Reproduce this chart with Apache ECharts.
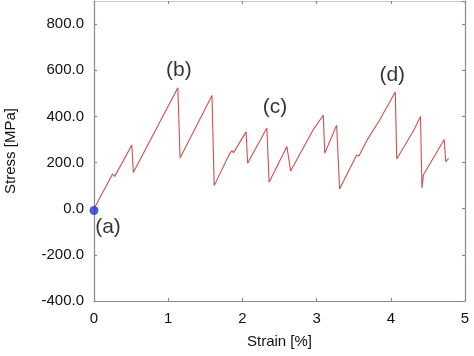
<!DOCTYPE html>
<html>
<head>
<meta charset="utf-8">
<script src="https://cdn.jsdelivr.net/npm/echarts@6/dist/echarts.min.js"></script>
<style>html,body{margin:0;padding:0;background:#fff}#c{width:474px;height:356px}</style>
</head>
<body>
<div id="c"></div>
<script>
var strain = [0, 0.25, 0.28, 0.51, 0.53, 1.13, 1.16, 1.59, 1.62, 1.83, 1.86, 1.88, 2.05, 2.07, 2.33, 2.36, 2.60, 2.65, 2.96, 3.09, 3.11, 3.27, 3.31, 3.54, 3.57, 3.68, 3.85, 4.06, 4.08, 4.31, 4.40, 4.42, 4.44, 4.72, 4.74, 4.78];
var stress = [0, 150, 140, 276, 157, 524, 220, 491, 100, 240, 252, 243, 333, 197, 350, 115, 269, 163, 345, 405, 240, 362, 85, 233, 228, 297, 384, 506, 215, 340, 400, 89, 147, 300, 204, 218];
var annotationNames = ['(a)', '(b)', '(c)', '(d)'];
var annotationStrain = [0, 1.13, 2.33, 4.06];
var annotationStress = [-8, 524, 350, 506];
var annotationOffsets = [[14, 17], [1, -18], [8, -21], [-3, -17]];
var yTicks = [-400, -200, 0, 200, 400, 600, 800];
var xTicks = [0, 1, 2, 3, 4, 5];

var lineData = strain.map(function (s, i) { return [s, stress[i]]; });
var annData = annotationNames.map(function (n, i) {
  return { name: n, value: [annotationStrain[i], annotationStress[i]],
    label: { offset: annotationOffsets[i] } };
});
var font = 'Liberation Sans';
var axisLineStyle = { color: '#8a8a8a', width: 1.2 };
var chart = echarts.init(document.getElementById('c'));
chart.setOption({
  animation: false,
  grid: { left: 94, right: 9, top: 1, bottom: 55, containLabel: false, outerBoundsMode: 'none' },
  xAxis: [{
    type: 'value', min: 0, max: 5, interval: 1,
    name: 'Strain [%]', nameLocation: 'middle', nameGap: 33,
    nameTextStyle: { fontFamily: font, fontSize: 15, color: '#111' },
    axisLine: { onZero: false, lineStyle: axisLineStyle },
    axisTick: { inside: true, length: 3, lineStyle: axisLineStyle },
    axisLabel: { fontFamily: font, fontSize: 15, color: '#111', margin: 10,
      formatter: function (v) { return xTicks.indexOf(v) >= 0 ? String(v) : ''; } },
    splitLine: { show: false }
  }, {
    type: 'value', min: 0, max: 5, interval: 1, position: 'top',
    axisLine: { show: true, onZero: false, lineStyle: { color: '#c8c8c8', width: 1.2 } },
    axisTick: { show: true, inside: true, length: 3, lineStyle: axisLineStyle },
    axisLabel: { show: false }, splitLine: { show: false }
  }],
  yAxis: [{
    type: 'value', min: -400, max: 900, interval: 200,
    name: 'Stress [MPa]', nameLocation: 'middle', nameGap: 76, nameRotate: 90,
    nameTextStyle: { fontFamily: font, fontSize: 15, color: '#111' },
    axisLine: { show: true, onZero: false, lineStyle: axisLineStyle },
    axisTick: { inside: true, length: 3, lineStyle: axisLineStyle },
    axisLabel: { fontFamily: font, fontSize: 15, color: '#111', margin: 10, showMaxLabel: false,
      formatter: function (v) { return yTicks.indexOf(v) >= 0 ? v.toFixed(1) : ''; } },
    splitLine: { show: false }
  }, {
    type: 'value', min: -400, max: 900, interval: 200, position: 'right',
    axisLine: { show: true, onZero: false, lineStyle: axisLineStyle },
    axisTick: { show: true, inside: true, length: 3, lineStyle: axisLineStyle },
    axisLabel: { show: false }, splitLine: { show: false }
  }],
  series: [{
    type: 'line', data: lineData, showSymbol: false, symbol: 'none',
    lineStyle: { color: '#cf5050', width: 1.1 }, z: 2
  }, {
    type: 'scatter', data: [[annotationStrain[0], annotationStress[0]]],
    symbolSize: 9, itemStyle: { color: '#2233dd' }, z: 3
  }, {
    type: 'scatter', data: annData, symbolSize: 0, z: 4,
    label: { show: true, position: 'inside', formatter: '{b}', fontFamily: font, fontSize: 21, color: '#000' }
  }]
});
</script>
</body>
</html>
